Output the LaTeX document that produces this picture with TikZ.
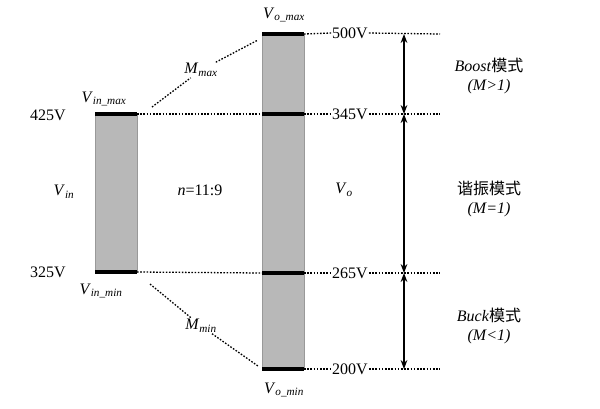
\documentclass[tikz,border=0pt]{standalone}
\usepackage{fontspec}
\setmainfont{Liberation Serif}
\newfontfamily\cjk{Noto Sans CJK SC}
\usetikzlibrary{arrows.meta}
\newcommand{\vv}[2]{\textit{#1}\textsubscript{\textit{#2}}}
\begin{document}
\begin{tikzpicture}[x=1pt,y=-1pt,font=\fontsize{16}{19}\selectfont,
  bar/.style={fill=black!28,draw=black!40},
  lvl/.style={line width=3.5pt},
  dot/.style={dash pattern=on 1.6pt off 1.6pt,line width=1.3pt},
  dbl/.style={{Stealth[length=9pt]}-{Stealth[length=9pt]},line width=1.2pt},
  lbl/.style={inner sep=1pt}]
\useasboundingbox (0,0) rectangle (600,408);
\fill[white] (0,0) rectangle (600,408);
\node[bar,minimum width=42pt,minimum height=158pt,inner sep=0] (L) at (116,193) {};
\node[bar,minimum width=42pt,minimum height=335pt,inner sep=0] (R) at (283,201.5) {};
\coordinate (l1) at (95,114); \coordinate (l2) at (137,114);
\coordinate (l3) at (95,272); \coordinate (l4) at (137,272);
\coordinate (r1) at (262,34); \coordinate (r2) at (304,34);
\coordinate (r3) at (262,114); \coordinate (r4) at (304,114);
\coordinate (r5) at (262,273); \coordinate (r6) at (304,273);
\coordinate (r7) at (262,369); \coordinate (r8) at (304,369);
\draw[lvl] (l1)--(l2); \draw[lvl] (l3)--(l4);
\draw[lvl] (r1)--(r2); \draw[lvl] (r3)--(r4); \draw[lvl] (r5)--(r6); \draw[lvl] (r7)--(r8);
\draw[dot] (l2)--(r3); \draw[dot] (l4)--(r5);
\node[lbl] (v500) at (350,33) {500V};
\node[lbl] (v345) at (350,114) {345V};
\node[lbl] (v265) at (350,273) {265V};
\node[lbl] (v200) at (350,369) {200V};
\node[lbl] (v425) at (48,115) {425V};
\node[lbl] (v325) at (48,272) {325V};
\draw[dot] (r2)--(v500.west); \draw[dot] (r4)--(v345.west);
\draw[dot] (r6)--(v265.west); \draw[dot] (r8)--(v200.west);
\coordinate (e1) at (440,34); \coordinate (e2) at (440,114);
\coordinate (e3) at (440,273); \coordinate (e4) at (440,369);
\draw[dot] (v500.east)--(e1); \draw[dot] (v345.east)--(e2);
\draw[dot] (v265.east)--(e3); \draw[dot] (v200.east)--(e4);
\coordinate (a1) at (404,34); \coordinate (a2) at (404,114);
\coordinate (a3) at (404,273); \coordinate (a4) at (404,369);
\draw[dbl] (a1)--(a2); \draw[dbl] (a2)--(a3); \draw[dbl] (a3)--(a4);
\node[lbl] (vin) at (64,192) {\vv{V}{in}};
\node[lbl] (n) at (200,190) {\textit{n}=11:9};
\node[lbl] (vo) at (344,190) {\vv{V}{o}};
\node[lbl] (vinmax) at (104,99) {\vv{V}{in\_max}};
\node[lbl] (vinmin) at (101,291) {\vv{V}{in\_min}};
\node[lbl] (vomax) at (284,15) {\vv{V}{o\_max}};
\node[lbl] (vomin) at (284,390) {\vv{V}{o\_min}};
\node[lbl] (mmax) at (201,70) {\vv{M}{max}};
\node[lbl] (mmin) at (201,326) {\vv{M}{min}};
\draw[dot] (152,107)--(mmax); \draw[dot] (mmax)--(258,40);
\draw[dot] (150,284)--(mmin); \draw[dot] (mmin)--(258,366);
\node[lbl,align=center] (b) at (489,76) {\textit{Boost}{\cjk 模式}\\\textit{(M>1)}};
\node[lbl,align=center] (r) at (489,199) {{\cjk 谐振模式}\\\textit{(M=1)}};
\node[lbl,align=center] (k) at (489,326) {\textit{Buck}{\cjk 模式}\\\textit{(M<1)}};
\end{tikzpicture}
\end{document}
